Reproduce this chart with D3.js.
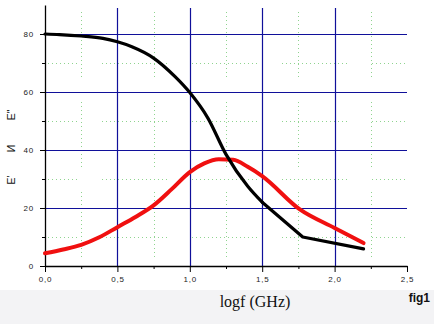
<!DOCTYPE html>
<html>
<head>
<meta charset="utf-8">
<script src="https://cdn.jsdelivr.net/npm/d3@7"></script>
<style>
  html, body { margin: 0; padding: 0; background: #fff; }
  svg { display: block; }
</style>
</head>
<body>
<svg id="chart" width="434" height="324"></svg>
<script>
// log of frequency (GHz) — smooth part of E'
const logfReal = [0, 0.1, 0.25, 0.4, 0.5, 0.6, 0.75, 0.9, 1.0, 1.125, 1.25, 1.4, 1.5];
// real part E'
const ePrime   = [80, 79.8, 79.3, 78.5, 77.3, 75.6, 71.7, 65.2, 59.8, 51, 38.5, 27.5, 22];
// straight tail of E'
const logfRealTail = [1.5, 1.78, 2.2];
const ePrimeTail   = [22, 10, 5.9];

const logfImag = [0, 0.125, 0.25, 0.375, 0.5, 0.625, 0.75, 0.875, 1.0, 1.1, 1.2, 1.3, 1.4, 1.5, 1.76, 2.0, 2.2];
// imaginary part E"
const eDouble  = [4.4, 5.7, 7.3, 9.9, 13.4, 16.9, 20.9, 26.5, 32.4, 35.4, 36.8, 36.6, 34.2, 31, 19.5, 13.1, 7.9];

const xMajorTicks = [0, 0.5, 1.0, 1.5, 2.0, 2.5];
const xMinorTicks = [0.25, 0.75, 1.25, 1.75, 2.25];
const yMajorTicks = [0, 20, 40, 60, 80];
const yMinorTicks = [10, 30, 50, 70];

const svg = d3.select("#chart");
const W = 434, H = 324;

const x = d3.scaleLinear().domain([0, 2.5]).range([45, 407]);
const y = d3.scaleLinear().domain([0, 90]).range([266, 5]);

// pale strip along the bottom
svg.append("rect").attr("x", 0).attr("y", 290).attr("width", W).attr("height", H - 290)
  .attr("fill", "#f3f3f5");

// dotted green minor grid, drawn in broken runs
const dotDash = d3.range(16).flatMap(() => [1, 3]).concat([1, 25]);
const period = d3.sum(dotDash);
const phase = s => (((s - 12) % period) + period) % period;
const green = svg.append("g").attr("stroke", "#8fd48f").attr("stroke-width", 1)
  .attr("stroke-dasharray", dotDash.join(","));
green.selectAll("line.h").data(yMinorTicks).join("line").attr("class", "h")
  .attr("x1", x(0)).attr("x2", x(2.5))
  .attr("y1", d => y(d) + 0.5).attr("y2", d => y(d) + 0.5)
  .attr("stroke-dashoffset", phase(x(0)));
green.selectAll("line.v").data(xMinorTicks).join("line").attr("class", "v")
  .attr("x1", d => Math.round(x(d)) + 0.5).attr("x2", d => Math.round(x(d)) + 0.5)
  .attr("y1", y(90)).attr("y2", y(0))
  .attr("stroke-dashoffset", phase(y(90)));

// navy major grid
const blue = svg.append("g").attr("stroke", "#10109a").attr("stroke-width", 1.2);
blue.selectAll("line.h").data(yMajorTicks.filter(d => d > 0)).join("line").attr("class", "h")
  .attr("x1", x(0)).attr("x2", x(2.5))
  .attr("y1", d => Math.round(y(d)) + 0.5).attr("y2", d => Math.round(y(d)) + 0.5);
blue.selectAll("line.v").data(xMajorTicks.filter(d => d > 0 && d < 2.5)).join("line").attr("class", "v")
  .attr("x1", d => Math.round(x(d)) + 0.5).attr("x2", d => Math.round(x(d)) + 0.5)
  .attr("y1", y(89)).attr("y2", y(0));

// axes
const commaFmt = d3.formatLocale({ decimal: ",", thousands: " ", grouping: [3], currency: ["", ""] }).format(".1f");

const xAxis = svg.append("g").attr("transform", `translate(0,${y(0)})`)
  .call(d3.axisBottom(x).tickValues(xMajorTicks).tickSize(6).tickSizeOuter(0).tickFormat(commaFmt));
svg.append("g").attr("transform", `translate(0,${y(0)})`)
  .call(d3.axisBottom(x).tickValues(xMinorTicks).tickSize(3).tickSizeOuter(0).tickFormat(""))
  .select(".domain").remove();

const yAxis = svg.append("g").attr("transform", `translate(${x(0)},0)`)
  .call(d3.axisLeft(y).tickValues(yMajorTicks).tickSize(5).tickSizeOuter(0).tickFormat(d3.format("d")));
svg.append("g").attr("transform", `translate(${x(0)},0)`)
  .call(d3.axisLeft(y).tickValues(yMinorTicks).tickSize(3).tickSizeOuter(0).tickFormat(""))
  .select(".domain").remove();

svg.selectAll(".domain").attr("stroke", "#000").attr("stroke-width", 1.3);
svg.selectAll(".tick line").attr("stroke", "#000");
xAxis.selectAll(".tick text").attr("font-family", "Arial, 'Liberation Sans', sans-serif")
  .attr("font-size", 8).attr("letter-spacing", 0.8).attr("fill", "#222").attr("dy", "0.9em");
yAxis.selectAll(".tick text").attr("font-family", "Arial, 'Liberation Sans', sans-serif")
  .attr("font-size", 8).attr("letter-spacing", 0.8).attr("fill", "#222").attr("x", -11);

// curves
const lineReal = d3.line().x((d, i) => x(logfReal[i])).y(d => y(d)).curve(d3.curveMonotoneX);
const lineRealTail = d3.line().x((d, i) => x(logfRealTail[i])).y(d => y(d));
const lineImag = d3.line().x((d, i) => x(logfImag[i])).y(d => y(d)).curve(d3.curveMonotoneX);

svg.append("path").datum(eDouble).attr("d", lineImag)
  .attr("fill", "none").attr("stroke", "#f01010").attr("stroke-width", 4)
  .attr("stroke-linejoin", "round").attr("stroke-linecap", "round");
const black = svg.append("g").attr("fill", "none").attr("stroke", "#000").attr("stroke-width", 3.2)
  .attr("stroke-linejoin", "round").attr("stroke-linecap", "round");
black.append("path").datum(ePrime).attr("d", lineReal);
black.append("path").datum(ePrimeTail).attr("d", lineRealTail);

// y-axis title, rotated
const yTitle = [["E'", 180], ["И", 148.5], ['E"', 115]];
svg.selectAll("text.ytitle").data(yTitle).join("text").attr("class", "ytitle")
  .attr("transform", d => `translate(10.5,${d[1]}) rotate(-90)`)
  .attr("text-anchor", "middle").attr("dominant-baseline", "central")
  .attr("font-family", "Arial, 'Liberation Sans', sans-serif").attr("font-size", 10.5)
  .attr("fill", "#111").text(d => d[0]);

// x-axis title
svg.append("text").attr("x", 255).attr("y", 307).attr("text-anchor", "middle")
  .attr("font-family", "'Liberation Serif', 'Times New Roman', serif").attr("font-size", 16)
  .attr("fill", "#111").text("logf (GHz)");

svg.append("text").attr("x", 430).attr("y", 302).attr("text-anchor", "end")
  .attr("font-family", "Arial, 'Liberation Sans', sans-serif").attr("font-size", 12)
  .attr("font-weight", "bold").attr("fill", "#111").text("fig1");
</script>
</body>
</html>
